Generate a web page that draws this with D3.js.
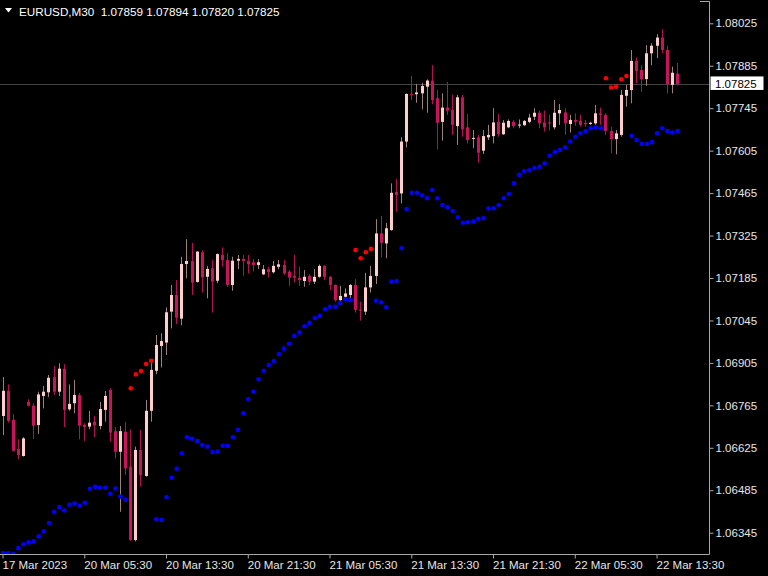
<!DOCTYPE html>
<html><head><meta charset="utf-8">
<script src="https://cdn.jsdelivr.net/npm/d3@7"></script>
<style>body{margin:0;background:#000}svg{display:block}</style>
</head><body><svg id="c" width="768" height="576"></svg>
<script>
const symbol = "EURUSD,M30";
const lastOHLC = [1.07859, 1.07894, 1.07820, 1.07825];
const currentPrice = 1.07825;
const priceTicks = [1.08025,1.07885,1.07745,1.07605,1.07465,1.07325,1.07185,1.07045,1.06905,1.06765,1.06625,1.06485,1.06345];
const timeTickIndex = [0,16,32,48,64,80,96,112,128];
const timeTickLabels = ["17 Mar 2023","20 Mar 05:30","20 Mar 13:30","20 Mar 21:30","21 Mar 05:30","21 Mar 13:30","21 Mar 21:30","22 Mar 05:30","22 Mar 13:30"];

const open = [
1.06730,1.06813,1.06717,1.06621,1.06598,1.06777,1.06764,1.06700,1.06796,1.06808,
1.06858,1.06810,1.06886,1.06752,1.06772,1.06799,1.06700,1.06695,1.06711,1.06697,
1.06750,1.06816,1.06680,1.06612,1.06678,1.06563,1.06321,1.06618,1.06532,1.06747,
1.06879,1.06961,1.06972,1.07074,1.07129,1.07051,1.07231,1.07241,1.07172,1.07270,
1.07189,1.07217,1.07176,1.07261,1.07244,1.07162,1.07242,1.07248,1.07241,1.07237,
1.07228,1.07197,1.07214,1.07204,1.07222,1.07228,1.07206,1.07192,1.07186,1.07175,
1.07192,1.07173,1.07189,1.07225,1.07189,1.07162,1.07112,1.07123,1.07129,1.07162,
1.07081,1.07074,1.07154,1.07192,1.07332,1.07299,1.07343,1.07469,1.07464,1.07635,
1.07792,1.07791,1.07794,1.07816,1.07836,1.07778,1.07700,1.07747,1.07739,1.07686,
1.07781,1.07682,1.07644,1.07649,1.07605,1.07649,1.07653,1.07700,1.07659,1.07682,
1.07700,1.07689,1.07689,1.07700,1.07717,1.07730,1.07698,1.07698,1.07682,1.07728,
1.07731,1.07693,1.07706,1.07703,1.07697,1.07693,1.07695,1.07728,1.07723,1.07670,
1.07643,1.07657,1.07786,1.07805,1.07901,1.07871,1.07841,1.07926,1.07951,1.07978,
1.07937,1.07822,1.07859];
const high = [
1.06858,1.06834,1.06736,1.06653,1.06660,1.06785,1.06772,1.06810,1.06829,1.06865,
1.06895,1.06904,1.06901,1.06834,1.06849,1.06806,1.06706,1.06747,1.06730,1.06776,
1.06812,1.06822,1.06693,1.06697,1.06711,1.06686,1.06629,1.06684,1.06783,1.06904,
1.06997,1.07003,1.07088,1.07162,1.07178,1.07255,1.07313,1.07301,1.07274,1.07277,
1.07225,1.07244,1.07266,1.07286,1.07267,1.07255,1.07261,1.07261,1.07261,1.07247,
1.07247,1.07228,1.07222,1.07241,1.07244,1.07244,1.07211,1.07261,1.07222,1.07211,
1.07198,1.07214,1.07230,1.07227,1.07191,1.07164,1.07159,1.07151,1.07165,1.07181,
1.07107,1.07202,1.07225,1.07379,1.07390,1.07367,1.07497,1.07511,1.07649,1.07794,
1.07851,1.07825,1.07829,1.07840,1.07887,1.07805,1.07794,1.07832,1.07789,1.07789,
1.07789,1.07726,1.07673,1.07657,1.07673,1.07690,1.07745,1.07726,1.07706,1.07708,
1.07706,1.07708,1.07706,1.07726,1.07745,1.07737,1.07737,1.07723,1.07772,1.07759,
1.07745,1.07723,1.07728,1.07723,1.07706,1.07700,1.07756,1.07747,1.07728,1.07684,
1.07673,1.07805,1.07822,1.07937,1.07912,1.07887,1.07953,1.07959,1.07989,1.08006,
1.07951,1.07882,1.07894];
const low = [
1.06667,1.06708,1.06612,1.06587,1.06596,1.06761,1.06654,1.06671,1.06755,1.06792,
1.06799,1.06796,1.06693,1.06747,1.06739,1.06653,1.06647,1.06686,1.06660,1.06686,
1.06711,1.06645,1.06590,1.06414,1.06535,1.06318,1.06316,1.06497,1.06530,1.06711,
1.06868,1.06890,1.06931,1.07019,1.07033,1.07029,1.07184,1.07129,1.07170,1.07137,
1.07118,1.07071,1.07168,1.07222,1.07156,1.07143,1.07214,1.07192,1.07200,1.07206,
1.07214,1.07195,1.07187,1.07200,1.07214,1.07195,1.07159,1.07170,1.07159,1.07156,
1.07162,1.07165,1.07186,1.07178,1.07145,1.07107,1.07102,1.07112,1.07118,1.07071,
1.07044,1.07063,1.07137,1.07165,1.07253,1.07250,1.07341,1.07404,1.07431,1.07616,
1.07772,1.07763,1.07741,1.07730,1.07758,1.07609,1.07638,1.07723,1.07657,1.07624,
1.07651,1.07629,1.07613,1.07565,1.07594,1.07640,1.07629,1.07651,1.07657,1.07679,
1.07679,1.07679,1.07686,1.07695,1.07706,1.07679,1.07668,1.07671,1.07675,1.07690,
1.07657,1.07665,1.07687,1.07684,1.07684,1.07690,1.07690,1.07690,1.07657,1.07596,
1.07593,1.07651,1.07750,1.07761,1.07827,1.07799,1.07819,1.07887,1.07910,1.07926,
1.07794,1.07794,1.07820];
const close = [
1.06813,1.06714,1.06615,1.06601,1.06656,1.06764,1.06698,1.06801,1.06810,1.06856,
1.06810,1.06886,1.06750,1.06770,1.06799,1.06698,1.06693,1.06708,1.06699,1.06753,
1.06796,1.06675,1.06612,1.06680,1.06557,1.06321,1.06618,1.06535,1.06747,1.06882,
1.06964,1.06977,1.07072,1.07129,1.07054,1.07231,1.07241,1.07170,1.07272,1.07187,
1.07215,1.07173,1.07264,1.07244,1.07162,1.07242,1.07248,1.07241,1.07230,1.07228,
1.07237,1.07214,1.07205,1.07225,1.07230,1.07200,1.07186,1.07186,1.07178,1.07189,
1.07173,1.07189,1.07225,1.07189,1.07162,1.07112,1.07126,1.07134,1.07162,1.07080,
1.07077,1.07154,1.07192,1.07332,1.07301,1.07349,1.07466,1.07459,1.07635,1.07792,
1.07789,1.07797,1.07818,1.07836,1.07772,1.07697,1.07747,1.07737,1.07690,1.07781,
1.07675,1.07640,1.07647,1.07598,1.07653,1.07657,1.07698,1.07660,1.07697,1.07703,
1.07686,1.07691,1.07703,1.07714,1.07730,1.07695,1.07682,1.07695,1.07730,1.07739,
1.07695,1.07706,1.07700,1.07690,1.07692,1.07697,1.07728,1.07723,1.07670,1.07643,
1.07662,1.07789,1.07805,1.07901,1.07868,1.07841,1.07926,1.07951,1.07978,1.07937,
1.07824,1.07862,1.07825];
// indicator dots: below price (blue) and above price (red); null = not drawn
const dotsBelow = [
1.06278,1.06277,1.06275,1.06294,1.06307,1.06313,1.06317,1.06333,1.06350,1.06377,
1.06413,1.06430,1.06418,1.06437,1.06441,1.06434,1.06444,1.06490,1.06496,1.06493,
1.06493,1.06473,1.06491,1.06464,1.06453,null,null,null,null,null,
1.06389,1.06387,1.06462,1.06526,1.06556,1.06607,1.06660,1.06655,1.06647,1.06634,
1.06629,1.06611,1.06613,1.06632,1.06631,1.06660,1.06684,1.06739,1.06785,1.06810,
1.06851,1.06879,1.06898,1.06911,1.06934,1.06952,1.06968,1.06994,1.07005,1.07026,
1.07037,1.07053,1.07060,1.07082,1.07090,1.07090,1.07102,1.07115,1.07112,null,
null,null,null,1.07110,1.07104,1.07088,1.07173,1.07175,1.07283,1.07412,
1.07466,1.07466,1.07458,1.07448,1.07475,1.07448,1.07426,1.07418,1.07406,1.07385,
1.07367,1.07369,1.07371,1.07380,1.07382,1.07414,1.07415,1.07426,1.07448,1.07462,
1.07497,1.07525,1.07537,1.07540,1.07548,1.07552,1.07563,1.07588,1.07600,1.07607,
1.07615,1.07635,1.07651,1.07662,1.07670,1.07679,1.07682,1.07679,null,null,
null,null,null,1.07653,1.07640,1.07627,1.07627,1.07633,1.07662,1.07679,
1.07670,1.07665,1.07670];
const dotsAboveIndex = [25,26,27,28,29,69,70,71,72,118,119,120,121,122];
const dotsAboveValue = [1.06821,1.06867,1.06878,1.06901,1.06912,1.07277,1.07250,1.07270,1.07281,1.07844,1.07813,1.07816,1.07840,1.07851];

const W = 768, H = 576;
const plot = {left: 0, top: 0, right: 709.5, bottom: 554.5};
const bullBody = "#ffcfcf", bearBody = "#c8145a", bullWick = "#9c8080", bearWick = "#b01252";
const frameColor = "#a8a8a8";
const font = "'Liberation Sans', Arial, sans-serif";

const svg = d3.select("#c");
svg.append("rect").attr("width", W).attr("height", H).attr("fill", "#000");

const x = d3.scaleLinear().domain([0, open.length - 1]).range([2.5, 677]);
const y = d3.scaleLinear().domain([1.06345, 1.08025]).range([532.7, 23.3]);

svg.append("clipPath").attr("id", "clip").append("rect")
  .attr("x", plot.left).attr("y", plot.top)
  .attr("width", plot.right - plot.left).attr("height", plot.bottom - plot.top);

const g = svg.append("g").attr("clip-path", "url(#clip)");

// current price line
g.append("line")
  .attr("x1", plot.left).attr("x2", plot.right)
  .attr("y1", Math.round(y(currentPrice)) + 0.5).attr("y2", Math.round(y(currentPrice)) + 0.5)
  .attr("stroke", "#444444").attr("stroke-width", 1);

const bars = d3.range(open.length).map(i => ({i, o: open[i], h: high[i], l: low[i], c: close[i]}));

g.selectAll("line.wick").data(bars).join("line").attr("class", "wick")
  .attr("x1", d => Math.round(x(d.i)) + 0.5).attr("x2", d => Math.round(x(d.i)) + 0.5)
  .attr("y1", d => y(d.h)).attr("y2", d => y(d.l))
  .attr("stroke", d => d.c >= d.o ? bullWick : bearWick).attr("stroke-width", 1);

g.selectAll("rect.body").data(bars).join("rect").attr("class", "body")
  .attr("x", d => Math.round(x(d.i)) - 1)
  .attr("width", 3)
  .attr("y", d => y(Math.max(d.o, d.c)))
  .attr("height", d => Math.max(1, Math.abs(y(d.o) - y(d.c))))
  .attr("fill", d => d.c >= d.o ? bullBody : bearBody);

// dots
const below = dotsBelow.map((v, i) => ({i, v})).filter(d => d.v !== null);
g.selectAll("circle.blue").data(below).join("circle").attr("class", "blue")
  .attr("cx", d => x(d.i) + 0.5).attr("cy", d => y(d.v)).attr("r", 2.3).attr("fill", "#0000ff");
const above = dotsAboveIndex.map((idx, k) => ({i: idx, v: dotsAboveValue[k]}));
g.selectAll("circle.red").data(above).join("circle").attr("class", "red")
  .attr("cx", d => x(d.i) + 0.5).attr("cy", d => y(d.v)).attr("r", 2.3).attr("fill", "#ff0000");

// frame: right and bottom edges
svg.append("path")
  .attr("d", `M${plot.left},${plot.bottom} H${plot.right} V1.5 H700`)
  .attr("fill", "none").attr("stroke", frameColor).attr("stroke-width", 1);

// right price axis
const ya = svg.append("g").attr("transform", `translate(${plot.right},0)`)
  .call(d3.axisRight(y).tickValues(priceTicks).tickSize(4).tickPadding(2).tickFormat(d3.format(".5f")));
ya.select(".domain").remove();
ya.selectAll(".tick line").attr("stroke", frameColor);
ya.selectAll(".tick text").attr("fill", "#e6e6e6").style("font-family", font).style("font-size", "11.5px");

// current price label
const cy = y(currentPrice);
svg.append("rect").attr("x", 710.5).attr("y", cy - 7.5).attr("width", 53).attr("height", 13.5)
  .attr("fill", "#ffffff");
svg.append("text").attr("x", 715).attr("y", cy + 4).text(d3.format(".5f")(currentPrice))
  .attr("fill", "#000").style("font-family", font).style("font-size", "11.5px");

// bottom time axis
const xa = svg.append("g").attr("transform", `translate(0,${plot.bottom})`)
  .call(d3.axisBottom(x).tickValues(timeTickIndex).tickSize(4).tickFormat((d, k) => timeTickLabels[k]));
xa.select(".domain").remove();
xa.selectAll(".tick line").attr("stroke", frameColor);
xa.selectAll(".tick text").attr("fill", "#e6e6e6").attr("text-anchor", "start")
  .attr("dx", -0.5).attr("y", 6)
  .style("font-family", font).style("font-size", "11.5px");

// header
svg.append("path").attr("d", "M5,8 L12,8 L8.5,12.5 Z").attr("fill", "#ffffff");
svg.append("text").attr("x", 19).attr("y", 15.5)
  .text(symbol + "  " + lastOHLC.map(d3.format(".5f")).join(" "))
  .attr("fill", "#ffffff").attr("xml:space", "preserve").style("white-space", "pre")
  .style("font-family", font).style("font-size", "11.7px");
</script></body></html>
